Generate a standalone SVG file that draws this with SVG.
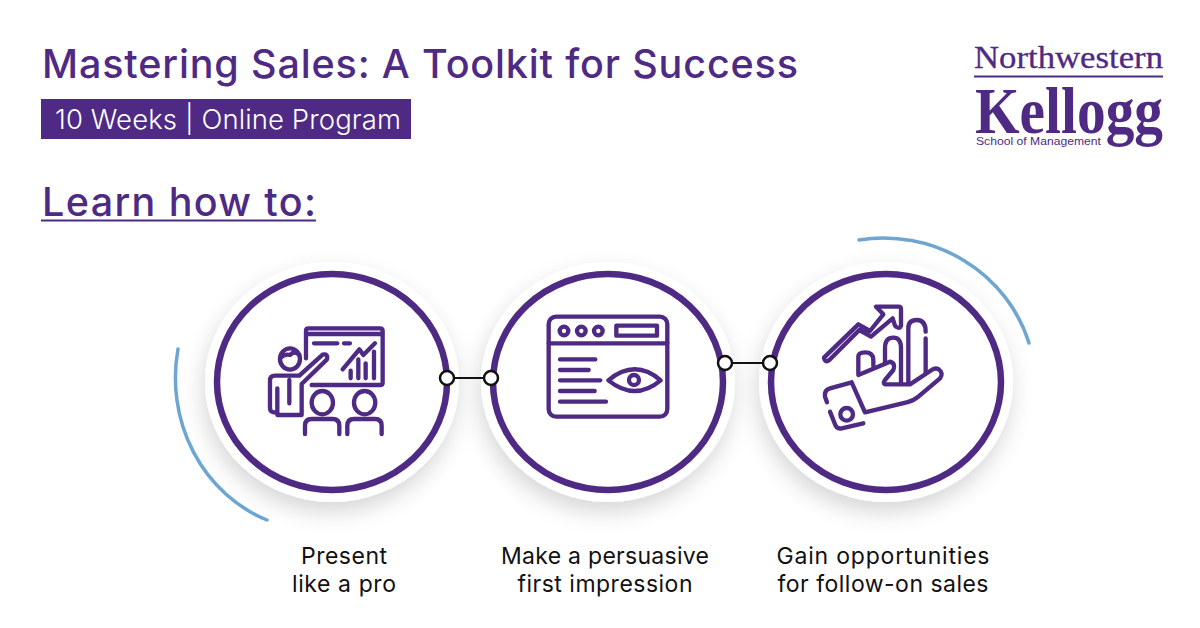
<svg xmlns="http://www.w3.org/2000/svg" width="1200" height="628" viewBox="0 0 1200 628">
<style>
.f{font-family:"Inter","Open Sans","Liberation Sans",sans-serif}
.h{font-size:39.500px;font-weight:500;fill:#4e2a84}
.c{font-size:23px;font-weight:400;fill:#111;text-anchor:middle}
.s{font-family:"Liberation Serif",serif;fill:#4e2a84}
.ring{fill:#fff;stroke:#4e2a84;stroke-width:6.5}
.halo{fill:#fff;filter:url(#sh)}
.ic{fill:none;stroke:#4e2a84;stroke-width:13;stroke-linecap:round;stroke-linejoin:round}
.arc{fill:none;stroke:#6ea6d2;stroke-width:3.5;stroke-linecap:round}
.ln{stroke:#111;stroke-width:2.2}
.dot{fill:#fff;stroke:#111;stroke-width:2.5}
</style>
<defs>
<filter id="sh" x="-30%" y="-30%" width="160%" height="160%"><feDropShadow dx="-2" dy="10" stdDeviation="11" flood-color="#000" flood-opacity=".16"/></filter>
</defs>
<rect width="1200" height="628" fill="#fff"/>
<g id="header">
<text class="f h" x="42" y="78" textLength="756" lengthAdjust="spacing">Mastering Sales: A Toolkit for Success</text>
<rect x="41" y="99" width="370" height="40" fill="#4e2a84"/>
<text class="f" x="55" y="129" font-size="27.500" font-weight="300" fill="#fff" textLength="346" lengthAdjust="spacing">10 Weeks | Online Program</text>
<text class="f h" x="42" y="216" textLength="274" lengthAdjust="spacing">Learn how to:</text>
<rect x="41" y="219.500" width="275" height="2" fill="#4e2a84"/>
</g>
<g id="logo">
<text class="s" x="974" y="68" font-size="32" stroke="#4e2a84" stroke-width=".3" textLength="189" lengthAdjust="spacingAndGlyphs">Northwestern</text>
<rect x="974" y="75.500" width="189" height="2" fill="#4e2a84"/>
<text class="s" x="975" y="133" font-size="66" font-weight="700" textLength="188" lengthAdjust="spacingAndGlyphs">Kellogg</text>
<text x="976" y="145" font-family="Liberation Sans,sans-serif" font-size="10.500" fill="#4e2a84" textLength="125" lengthAdjust="spacingAndGlyphs">School of Management</text>
</g>
<g id="arcs">
<path class="arc" d="M178 349A142 152 0 0 0 267 520"/>
<path class="arc" d="M859 240A152 148 0 0 1 1029 343"/>
</g>
<g id="node1">
<ellipse class="halo" cx="332" cy="382" rx="127" ry="120"/><ellipse class="ring" cx="332" cy="382" rx="115" ry="108"/>
<g class="ic" transform="translate(200 260) scale(.3333)">
<path d="M318 295V212Q318 205 325 205H540Q548 205 548 212V368Q548 375 540 375H335M318 222H548M342 250H412M432 250H450M428 328L478 268 490 285 525 250M452 332V355M475 298V355M497 310V355M522 275V355"/>
<ellipse cx="270" cy="297" rx="30" ry="32"/><path d="M240 295Q255 280 270 285Q285 270 298 285"/>
<path d="M225 347H298L368 284Q385 280 381 298L305 372V465H232M225 347Q210 347 210 362V445Q210 458 228 458M232 385V465M268 360V430"/>
<ellipse cx="367" cy="428" rx="32" ry="35"/><ellipse cx="494" cy="428" rx="32" ry="35"/>
<path d="M315 522V497Q315 477 335 477H398Q418 477 418 497V522M442 522V497Q442 477 462 477H525Q545 477 545 497V522"/>
</g>
</g>
<g id="node2">
<ellipse class="halo" cx="608" cy="382" rx="127" ry="120"/><ellipse class="ring" cx="608" cy="382" rx="115" ry="108"/>
<g class="ic" transform="translate(520 300) scale(.3333)">
<rect x="86" y="50" width="356" height="300" rx="22"/>
<path d="M86 130H442M120 178H226M120 210H206M120 241H241M120 273H224M120 305H258"/>
<circle cx="132" cy="93" r="13"/><circle cx="184" cy="93" r="13"/><circle cx="235" cy="93" r="13"/>
<rect x="289" y="77" width="122" height="30"/>
<path d="M265 241Q345 175 422 241Q345 305 265 241Z"/><circle cx="342" cy="240" r="15"/>
</g>
</g>
<g id="node3">
<ellipse class="halo" cx="886" cy="382" rx="127" ry="120"/><ellipse class="ring" cx="886" cy="382" rx="115" ry="108"/>
<g class="ic" transform="translate(800 295) scale(.3333)">
<path d="M228 35H296Q303 35 303 42V92Q298 105 285 92L278 70 213 125 178 105 88 195Q75 205 72 188L175 88 210 108 250 58Z"/>
<path d="M175 235V185Q175 172 195 172Q220 172 220 195V212M255 205V160Q255 128 280 128Q303 128 303 160V265M325 265V100Q325 75 350 75Q377 75 377 110M377 130V235"/>
<path d="M155 262L90 280Q72 285 75 305L81 322M90 350L105 388Q110 403 125 400L190 385M155 262L195 352 320 322Q340 318 355 305L420 250Q432 235 415 222Q405 218 395 225L330 268H255Q248 265 255 255L280 225Q288 205 270 200L175 240"/>
<circle cx="140" cy="358" r="19"/>
</g>
</g>
<g id="connectors">
<path class="ln" d="M447 378H491M725 363H770"/>
<circle class="dot" cx="447" cy="378" r="7"/><circle class="dot" cx="491" cy="378" r="7"/>
<circle class="dot" cx="725" cy="363" r="7"/><circle class="dot" cx="770" cy="363" r="7"/>
</g>
<g id="captions">
<text class="f c" x="344" y="564" textLength="86" lengthAdjust="spacing">Present</text><text class="f c" x="344" y="592" textLength="104" lengthAdjust="spacing">like a pro</text>
<text class="f c" x="605" y="564" textLength="208" lengthAdjust="spacing">Make a persuasive</text><text class="f c" x="605" y="592" textLength="175" lengthAdjust="spacing">first impression</text>
<text class="f c" x="883" y="564" textLength="213" lengthAdjust="spacing">Gain opportunities</text><text class="f c" x="883" y="592" textLength="211" lengthAdjust="spacing">for follow-on sales</text>
</g>
</svg>
